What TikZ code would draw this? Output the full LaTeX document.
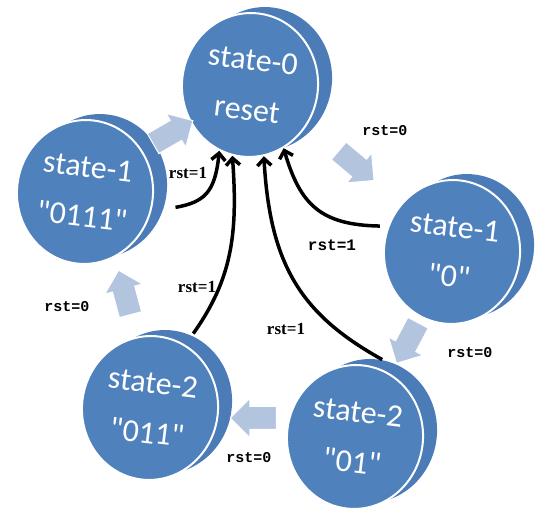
\documentclass[tikz,border=0pt]{standalone}
\usepackage{fontspec}
\newfontfamily\diskfont{Carlito}
\newfontfamily\rstmono{Liberation Mono}
\newfontfamily\rstserif{Liberation Serif}
\usepackage{tikz}
\usetikzlibrary{arrows.meta,shapes.geometric,shapes.arrows,shadows}
\definecolor{diskfront}{HTML}{4F81BD}
\definecolor{diskback}{HTML}{4B7CB8}
\definecolor{blockblue}{HTML}{B3C4DF}
\tikzset{
	disk/.style={ellipse, minimum width=136pt, minimum height=144pt, inner sep=0pt,
		fill=diskfront, draw=white, line width=2pt, rotate=-7, text=white, align=center,
		font=\diskfont\fontsize{32}{50}\selectfont,
		copy shadow={shadow xshift=14pt, shadow yshift=6pt, fill=diskback, draw=none}},
	block/.style={single arrow, fill=blockblue, draw=white, line width=1pt,
		minimum height=46pt, inner sep=11pt, single arrow head extend=8pt},
	rstzero/.style={font=\rstmono\bfseries\fontsize{15}{15}\selectfont},
	rstone/.style={font=\rstserif\bfseries\fontsize{17}{17}\selectfont},
	resetline/.style={line width=3.5pt, -{Straight Barb[length=7pt,width=14pt]}}
}

\begin{document}
\begin{tikzpicture}[x=1pt,y=1pt]
			%%%%% START %%%%%
			\useasboundingbox (0,0) rectangle (544,514);
			
			\node[disk] (s0) at (250,429) {state-0\\reset};
			\node[disk] (s1) at (452,262) {state-1\\"0"};
			\node[disk] (s2) at (355,77) {state-2\\"01"};
			\node[disk] (s3) at (150,106) {state-2\\"011"};
			\node[disk] (s4) at (85,322) {state-1\\"0111"};
			
			\node[block, rotate=30] (a40) at (168,379) {};
			\node[block, rotate=-40] (a01) at (352,352) {};
			\node[block, rotate=-118] (a12) at (410,176) {};
			\node[block, rotate=180] (a23) at (259,96) {};
			\node[block, rotate=105] (a34) at (126,216) {};
			
			\node[rstzero] (z01) at (385,383) {rst=0};
			\node[rstzero] (z12) at (470,161) {rst=0};
			\node[rstzero] (z23) at (249,56) {rst=0};
			\node[rstzero] (z34) at (67,207) {rst=0};
			
			\draw[resetline] ([shift={(22,-7)}]s4.east) .. controls (205,312) and (215,322) .. (s0.-108);
			\draw[resetline] ([yshift=17pt]s3.60) .. controls (232,235) and (238,280) .. (s0.-97);
			\draw[resetline] ([yshift=10pt]s2.75) .. controls (300,200) and (270,250) .. (s0.-72);
			\draw[resetline] ([xshift=-8pt]s1.165) .. controls (320,289) and (300,310) .. (s0.-55);
			
			\node[rstone] (o4) at (188,341) {rst=1};
			\node[rstzero, font=\rstmono\bfseries\fontsize{16}{16}\selectfont] (o1) at (332,269) {rst=1};
			\node[rstone] (o3) at (197,227) {rst=1};
			\node[rstone] (o2) at (286,185) {rst=1};
			
			%%%%% END %%%%%
\end{tikzpicture}
\end{document}
